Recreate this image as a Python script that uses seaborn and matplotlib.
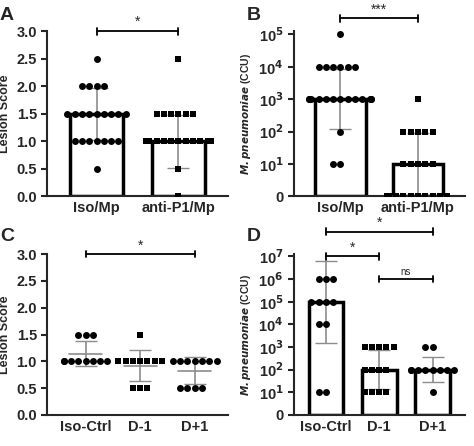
import numpy as np
import pandas as pd
import seaborn as sns
import matplotlib.pyplot as plt

# ===== data =====
a_groups = ["Iso/Mp", "anti-P1/Mp"]
a_iso = [2.5] + [2.0]*4 + [1.5]*9 + [1.0]*7 + [0.5]
a_anti = [2.5] + [1.5]*6 + [1.0]*12 + [0.5] + [0.0]

b_groups = ["Iso/Mp", "anti-P1/Mp"]
b_iso = [1e5] + [1e4]*6 + [1e3]*13 + [1e2] + [1e1]*2
b_anti = [1e3] + [1e2]*5 + [1e1]*5 + [0]*10

c_groups = ["Iso-Ctrl", "D-1", "D+1"]
c_iso = [1.5]*3 + [1.0]*8
c_dm1 = [1.5] + [1.0]*8 + [0.5]*3
c_dp1 = [1.0]*7 + [0.5]*4

d_groups = ["Iso-Ctrl", "D-1", "D+1"]
d_iso = [1e6]*3 + [1e5]*4 + [1e4]*2 + [1e1]*2
d_dm1 = [1e3]*5 + [1e2]*4 + [1e1]*4
d_dp1 = [1e3]*2 + [1e2]*8 + [1e1]
# =====================================

sns.set_theme(style="ticks")
plt.rcParams['font.family'] = ['Liberation Sans', 'DejaVu Sans']
plt.rcParams['font.weight'] = 'bold'
plt.rcParams['mathtext.default'] = 'bf'


def to_exp(vals):
    v = np.asarray(vals, dtype=float)
    return np.log10(np.where(v < 1, 1, v))


def frame(groups, lists):
    rows = []
    for g, vals in zip(groups, lists):
        for v in vals:
            rows.append((g, v))
    return pd.DataFrame(rows, columns=["group", "val"])


def panel(ax, groups, lists, markers, bars=True, size=5):
    df = frame(groups, lists)
    if bars:
        sns.barplot(data=df, x="group", y="val", estimator=np.median, errorbar=None,
                    fill=False, edgecolor="black", linewidth=2.5, width=0.65, ax=ax)
    for i, (g, m) in enumerate(zip(groups, markers)):
        vals = np.asarray(lists[i])
        mean, sd = vals.mean(), vals.std(ddof=1)
        ax.errorbar(i, np.median(vals) if bars else mean, yerr=sd, color="0.55",
                    lw=1.2, capsize=8, zorder=1)
        if not bars:
            ax.plot([i - 0.3, i + 0.3], [mean, mean], color="0.55", lw=1.2, zorder=1)
        sub = df[df.group == g]
        sns.swarmplot(data=sub, x="group", y="val", order=groups, marker=m,
                      color="black", size=size, ax=ax, zorder=3)
    ax.set_xlabel("")
    sns.despine(ax=ax)
    ax.tick_params(labelsize=10.5, width=1.5, length=4)
    for s in ax.spines.values():
        s.set_linewidth(1.5)
    for t in ax.get_xticklabels() + ax.get_yticklabels():
        t.set_fontweight("bold")
    ax.tick_params(axis="x", length=0)


def bracket(ax, x0, x1, y, text, fs=10):
    ax.plot([x0, x1], [y, y], color="black", lw=1.3, clip_on=False)
    h = (ax.get_ylim()[1] - ax.get_ylim()[0]) * 0.02
    for x in (x0, x1):
        ax.plot([x, x], [y - h, y + h], color="black", lw=1.3, clip_on=False)
    ax.text((x0 + x1) / 2, y + h * 0.6, text, ha="center", va="bottom", fontsize=fs,
            fontweight="normal")


fig = plt.figure(figsize=(4.74, 4.46), dpi=100)
axA = fig.add_axes([0.10, 0.56, 0.38, 0.37])
axB = fig.add_axes([0.62, 0.56, 0.36, 0.37])
axC = fig.add_axes([0.10, 0.07, 0.38, 0.36])
axD = fig.add_axes([0.62, 0.07, 0.36, 0.36])

# A
panel(axA, a_groups, [a_iso, a_anti], ["o", "s"])
axA.set_ylim(0, 3.0)
axA.set_yticks(np.arange(0, 3.01, 0.5))
axA.set_yticklabels([f"{v:.1f}" for v in np.arange(0, 3.01, 0.5)], fontweight="bold")
axA.set_xlim(-0.6, 1.6)
axA.set_ylabel("Lesion Score", fontsize=9, fontweight="bold")
bracket(axA, 0, 1, 3.0, "*")

# B
panel(axB, b_groups, [to_exp(b_iso), to_exp(b_anti)], ["o", "s"])
axB.set_ylim(0, 5.1)
axB.set_yticks(range(6))
axB.set_yticklabels(["0"] + [f"10$^{{{k}}}$" for k in range(1, 6)], fontweight="bold")
axB.set_xlim(-0.6, 1.6)
axB.set_ylabel("$\\mathbfit{M. pneumoniae}$ (CCU)", fontsize=7.5, fontweight="bold")
bracket(axB, 0, 1, 5.5, "***")

# C
panel(axC, c_groups, [c_iso, c_dm1, c_dp1], ["o", "s", "o"], bars=False)
axC.set_ylim(0, 3.0)
axC.set_yticks(np.arange(0, 3.01, 0.5))
axC.set_yticklabels([f"{v:.1f}" for v in np.arange(0, 3.01, 0.5)], fontweight="bold")
axC.set_xlim(-0.7, 2.6)
axC.set_ylabel("Lesion Score", fontsize=9, fontweight="bold")
bracket(axC, 0, 2, 3.0, "*")

# D
panel(axD, d_groups, [to_exp(d_iso), to_exp(d_dm1), to_exp(d_dp1)], ["o", "s", "o"])
axD.set_ylim(0, 7.1)
axD.set_yticks(range(8))
axD.set_yticklabels(["0"] + [f"10$^{{{k}}}$" for k in range(1, 8)], fontweight="bold")
axD.set_xlim(-0.6, 2.6)
axD.set_ylabel("$\\mathbfit{M. pneumoniae}$ (CCU)", fontsize=7.5, fontweight="bold")
bracket(axD, 0, 1, 7.0, "*")
bracket(axD, 1, 2, 6.0, "ns", fs=7)
bracket(axD, 0, 2, 8.1, "*")

for lab, x, y in [("A", 0.0, 0.965), ("B", 0.52, 0.965),
                  ("C", 0.0, 0.47), ("D", 0.52, 0.47)]:
    fig.text(x, y, lab, fontsize=14, fontweight="bold", va="center")

fig.savefig("out.png", dpi=100)
